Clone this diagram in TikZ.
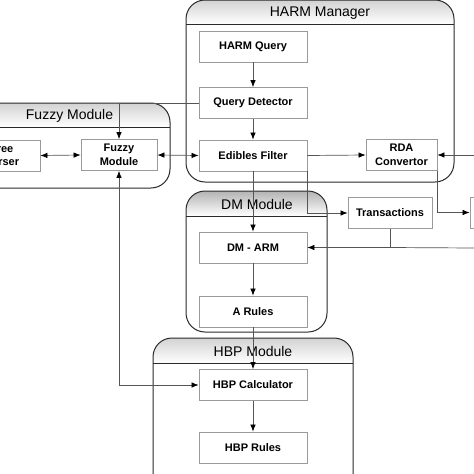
\documentclass[tikz,border=0pt]{standalone}
\usepackage{fontspec}
\setmainfont{Liberation Sans}
\usetikzlibrary{arrows.meta}
\definecolor{frameline}{HTML}{2A2A2A}
\definecolor{boxline}{HTML}{9A9A9A}
\definecolor{wire}{HTML}{555555}
\tikzset{
  box/.style={draw=boxline, line width=0.8pt, fill=white, minimum width=108pt,
    minimum height=31pt, inner sep=1pt, align=center,
    font=\bfseries\fontsize{11}{13.5}\selectfont},
  wire/.style={draw=wire, line width=0.7pt},
  onearrow/.style={wire, -{Latex[length=7pt,width=5.5pt,color=black]}},
  twoarrow/.style={wire, {Latex[length=7pt,width=5.5pt,color=black]}-{Latex[length=7pt,width=5.5pt,color=black]}},
  frame/.style={draw=frameline, line width=1pt},
  frametitle/.style={font=\fontsize{14}{16}\selectfont, inner sep=0pt},
}
% #1 x1, #2 y1, #3 x2, #4 y2, #5 header y, #6 title, #7 top colour, #8 name, #9 title x
\newcommand\modframe[9]{%
  \begin{scope}
    \clip[rounded corners=19pt] (#1,#2) rectangle (#3,#4);
    \shade[top color=#7, bottom color=white] (#1,#2) rectangle (#3,#5);
  \end{scope}
  \draw[frame, rounded corners=19pt] (#1,#2) rectangle (#3,#4);
  \draw[frame] (#1,#5) -- (#3,#5);
  \node[frametitle] (#8) at (#9, {(#2+#5)/2+1}) {#6};
}
\begin{document}
\begin{tikzpicture}[x=1pt,y=-1pt]
\useasboundingbox (0,0) rectangle (474,474);
\clip (0,0) rectangle (474,474);
\fill[white] (0,0) rectangle (474,474);

% containers
\modframe{186}{0}{454}{182}{24}{HARM Manager}{gray!35}{tharm}{320}
\modframe{-40}{103}{170}{188}{127}{Fuzzy Module}{gray!35}{tfuzzy}{69.5}
\modframe{186}{191}{327}{332}{216}{DM Module}{gray!60}{tdm}{257}
\modframe{153}{338}{353}{520}{363}{HBP Module}{gray!35}{thbp}{253}

% boxes
\node[box] (hq)   at (253,46.5)  {HARM Query};
\node[box] (qd)   at (253,103)   {Query Detector};
\node[box] (ef)   at (253,155.5) {Edibles Filter};
\node[box, minimum width=71pt] (rda) at (401.5,155) {RDA\\Convertor};
\node[box, minimum width=76pt] (fz)  at (119,155)   {Fuzzy\\Module};
\node[box, minimum width=76pt] (tp)  at (2,155.5)   {Tree\\Parser};
\node[box] (dma)  at (253,247.5) {DM - ARM};
\node[box] (ar)   at (253,311.5) {A Rules};
\node[box, minimum width=84pt] (tr)  at (390,213)   {Transactions};
\node[box, minimum width=70pt] (rb)  at (505,212.5) {};
\node[box] (hc)   at (253,385)   {HBP Calculator};
\node[box] (hr)   at (253,447.5) {HBP Rules};

\coordinate (rdain) at (474,155);
\coordinate (dmin)  at (474,248);

% connectors
\draw[onearrow] (hq) -- (qd);
\draw[onearrow] (qd) -- (ef);
\draw[onearrow] (qd.west) -| (fz.north);
\draw[twoarrow] (tp.east) -- (fz.west);
\draw[twoarrow] (fz.east) -- (ef.west);
\draw[onearrow] (ef.east) -- (rda.west);
\draw[onearrow] (rdain) -- (rda.east);
\draw[onearrow] (ef.south) -- (dma.north);
\draw[onearrow] (ef.south east) |- (tr.west);
\draw[onearrow] (rda.south east) |- (rb.west);
\draw[onearrow] (tr.south) |- (dma.east);
\draw[wire] (dmin) -- (tr.south |- dma.east);
\draw[onearrow] (dma) -- (ar);
\draw[onearrow] (ar) -- (hc);
\draw[twoarrow] (fz.south) |- (hc.west);
\draw[onearrow] (hc) -- (hr);
\end{tikzpicture}
\end{document}
